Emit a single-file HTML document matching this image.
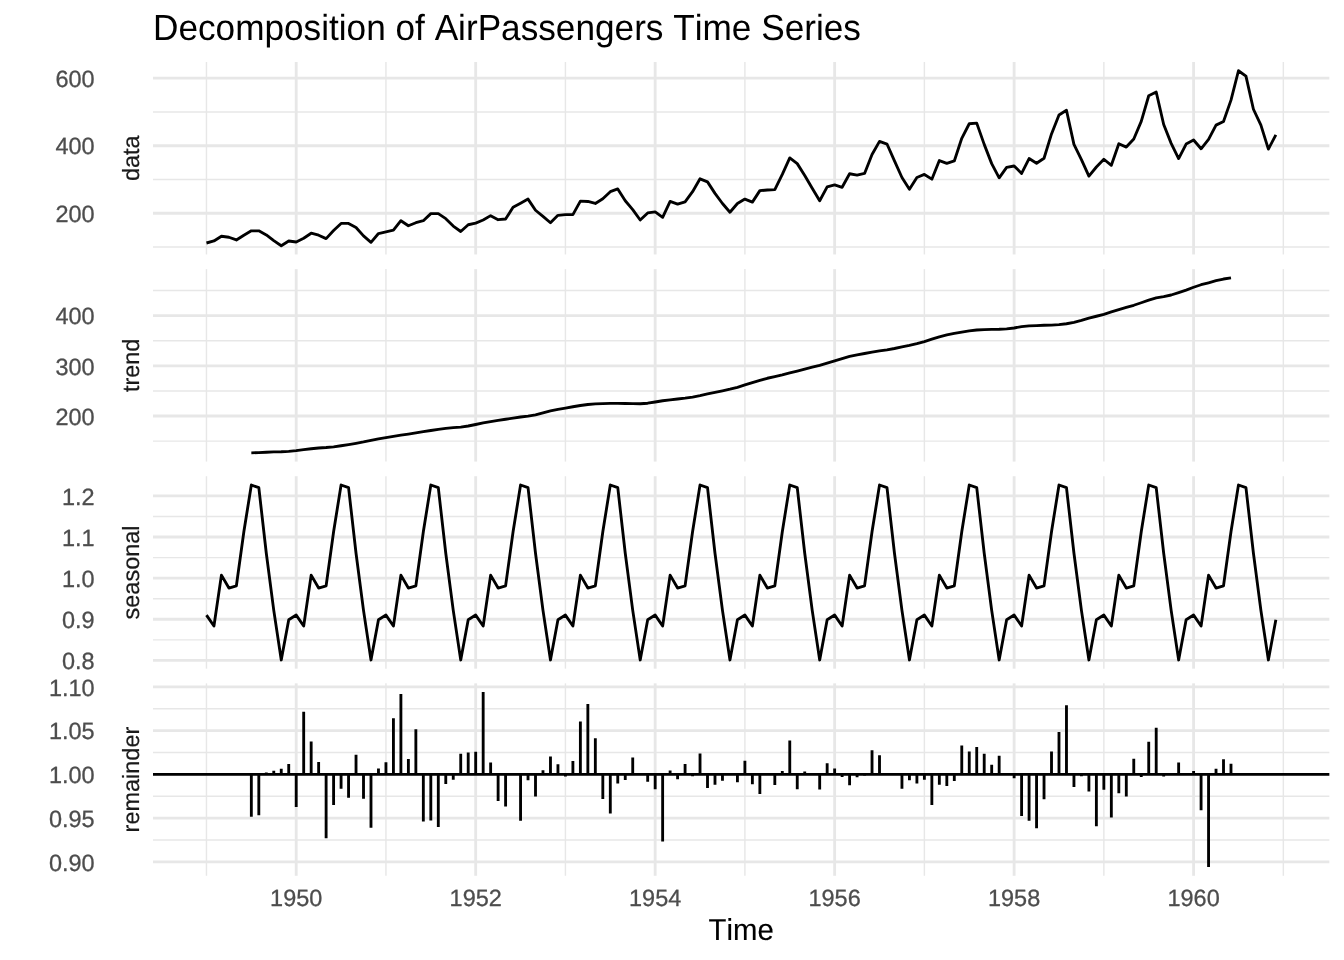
<!DOCTYPE html>
<html lang="en"><head><meta charset="utf-8"><title>Decomposition of AirPassengers Time Series</title>
<style>
html,body{margin:0;padding:0;background:#fff}
body{width:1344px;height:960px;overflow:hidden}
svg{display:block;font-family:"Liberation Sans",Arial,Helvetica,sans-serif;font-kerning:none;text-rendering:geometricPrecision}
text{stroke-width:0.3px;stroke-linejoin:round}
text.a{fill:#4D4D4D;stroke:#4D4D4D}
text.s{fill:#1A1A1A;stroke:#1A1A1A;stroke-width:0.2px}
text.k{fill:#000;stroke:#000;stroke-width:0.15px}
text.t{fill:#000;stroke:none}
</style></head><body>
<svg width="1344" height="960" viewBox="0 0 1344 960">
<rect width="1344" height="960" fill="#fff"/>
<g stroke="#E7E7E7" fill="none"><path d="M153.00 247.05H1329.33" stroke-width="1.42"/><path d="M153.00 179.50H1329.33" stroke-width="1.42"/><path d="M153.00 111.95H1329.33" stroke-width="1.42"/><path d="M206.47 62.00V254.45" stroke-width="1.42"/><path d="M385.95 62.00V254.45" stroke-width="1.42"/><path d="M565.43 62.00V254.45" stroke-width="1.42"/><path d="M744.90 62.00V254.45" stroke-width="1.42"/><path d="M924.38 62.00V254.45" stroke-width="1.42"/><path d="M1103.86 62.00V254.45" stroke-width="1.42"/><path d="M1283.34 62.00V254.45" stroke-width="1.42"/><path d="M153.00 213.28H1329.33" stroke-width="2.85"/><path d="M153.00 145.73H1329.33" stroke-width="2.85"/><path d="M153.00 78.18H1329.33" stroke-width="2.85"/><path d="M296.21 62.00V254.45" stroke-width="2.85"/><path d="M475.69 62.00V254.45" stroke-width="2.85"/><path d="M655.17 62.00V254.45" stroke-width="2.85"/><path d="M834.64 62.00V254.45" stroke-width="2.85"/><path d="M1014.12 62.00V254.45" stroke-width="2.85"/><path d="M1193.60 62.00V254.45" stroke-width="2.85"/></g>
<path d="M206.47 243.00L213.95 240.97L221.43 236.25L228.90 237.26L236.38 239.96L243.86 235.23L251.34 230.84L258.82 230.84L266.30 234.89L273.77 240.64L281.25 245.70L288.73 240.97L296.21 241.99L303.69 238.27L311.17 233.21L318.64 235.23L326.12 238.61L333.60 230.50L341.08 223.41L348.56 223.41L356.03 227.46L363.51 235.91L370.99 242.32L378.47 233.54L385.95 231.85L393.43 230.17L400.90 220.71L408.38 225.78L415.86 222.74L423.34 220.71L430.82 213.62L438.30 213.62L445.77 218.68L453.25 226.11L460.73 231.52L468.21 224.76L475.69 223.07L483.17 220.03L490.64 215.64L498.12 219.70L505.60 219.02L513.08 207.20L520.56 203.15L528.03 199.09L535.51 210.24L542.99 216.32L550.47 222.74L557.95 215.30L565.43 214.63L572.90 214.63L580.38 201.12L587.86 201.46L595.34 203.48L602.82 198.76L610.30 191.66L617.77 188.96L625.25 200.78L632.73 209.56L640.21 220.03L647.69 212.94L655.17 211.93L662.64 217.33L670.12 201.46L677.60 204.16L685.08 201.79L692.56 191.66L700.03 178.83L707.51 181.87L714.99 193.35L722.47 203.48L729.95 212.27L737.43 203.48L744.90 199.09L752.38 202.13L759.86 190.65L767.34 189.97L774.82 189.64L782.30 174.44L789.77 157.89L797.25 163.63L804.73 175.45L812.21 188.28L819.69 200.78L827.16 186.93L834.64 184.91L842.12 187.27L849.60 173.76L857.08 175.11L864.56 173.42L872.03 154.51L879.51 141.34L886.99 144.04L894.47 160.93L901.95 177.48L909.43 189.30L916.90 177.48L924.38 174.44L931.86 179.17L939.34 160.59L946.82 163.29L954.30 160.93L961.77 138.30L969.25 123.77L976.73 123.10L984.21 144.38L991.69 163.63L999.16 177.81L1006.64 167.34L1014.12 165.99L1021.60 173.42L1029.08 158.56L1036.56 163.29L1044.03 158.22L1051.51 133.91L1058.99 114.99L1066.47 110.26L1073.95 144.38L1081.43 159.58L1088.90 176.13L1096.38 167.01L1103.86 159.24L1111.34 165.32L1118.82 143.70L1126.30 147.08L1133.77 138.97L1141.25 121.41L1148.73 95.74L1156.21 92.03L1163.69 124.45L1171.16 143.36L1178.64 158.56L1186.12 144.04L1193.60 139.99L1201.08 148.77L1208.56 139.31L1216.03 125.13L1223.51 121.41L1230.99 100.13L1238.47 70.75L1245.95 76.15L1253.43 109.25L1260.90 125.13L1268.38 149.11L1275.86 134.92" fill="none" stroke="#000" stroke-width="2.85" stroke-linejoin="round" stroke-linecap="butt"/>
<text x="94.60" y="221.98" text-anchor="end" font-size="23.47" class="a">200</text>
<text x="94.60" y="154.43" text-anchor="end" font-size="23.47" class="a">400</text>
<text x="94.60" y="86.88" text-anchor="end" font-size="23.47" class="a">600</text>
<text transform="translate(138.70 158.22) rotate(-90)" text-anchor="middle" font-size="23.47" class="s">data</text>
<g stroke="#E7E7E7" fill="none"><path d="M153.00 441.16H1329.33" stroke-width="1.42"/><path d="M153.00 390.92H1329.33" stroke-width="1.42"/><path d="M153.00 340.68H1329.33" stroke-width="1.42"/><path d="M153.00 290.44H1329.33" stroke-width="1.42"/><path d="M206.47 269.12V461.57" stroke-width="1.42"/><path d="M385.95 269.12V461.57" stroke-width="1.42"/><path d="M565.43 269.12V461.57" stroke-width="1.42"/><path d="M744.90 269.12V461.57" stroke-width="1.42"/><path d="M924.38 269.12V461.57" stroke-width="1.42"/><path d="M1103.86 269.12V461.57" stroke-width="1.42"/><path d="M1283.34 269.12V461.57" stroke-width="1.42"/><path d="M153.00 416.04H1329.33" stroke-width="2.85"/><path d="M153.00 365.80H1329.33" stroke-width="2.85"/><path d="M153.00 315.56H1329.33" stroke-width="2.85"/><path d="M296.21 269.12V461.57" stroke-width="2.85"/><path d="M475.69 269.12V461.57" stroke-width="2.85"/><path d="M655.17 269.12V461.57" stroke-width="2.85"/><path d="M834.64 269.12V461.57" stroke-width="2.85"/><path d="M1014.12 269.12V461.57" stroke-width="2.85"/><path d="M1193.60 269.12V461.57" stroke-width="2.85"/></g>
<path d="M251.34 452.82L258.82 452.59L266.30 452.23L273.77 451.92L281.25 451.71L288.73 451.33L296.21 450.58L303.69 449.66L311.17 448.74L318.64 447.98L326.12 447.48L333.60 446.81L341.08 445.72L348.56 444.59L356.03 443.32L363.51 441.95L370.99 440.38L378.47 438.79L385.95 437.58L393.43 436.37L400.90 435.21L408.38 434.06L415.86 432.79L423.34 431.57L430.82 430.48L438.30 429.31L445.77 428.37L453.25 427.68L460.73 427.07L468.21 426.00L475.69 424.52L483.17 422.97L490.64 421.55L498.12 420.42L505.60 419.26L513.08 418.13L520.56 417.02L528.03 416.17L535.51 414.93L542.99 412.90L550.47 410.81L557.95 409.32L565.43 408.09L572.90 406.75L580.38 405.53L587.86 404.53L595.34 403.94L602.82 403.63L610.30 403.31L617.77 403.31L625.25 403.50L632.73 403.69L640.21 403.75L647.69 403.21L655.17 401.97L662.64 400.74L670.12 399.84L677.60 399.00L685.08 398.14L692.56 397.08L700.03 395.69L707.51 393.96L714.99 392.34L722.47 390.80L729.95 389.16L737.43 387.34L744.90 384.98L752.38 382.55L759.86 380.31L767.34 378.26L774.82 376.60L782.30 374.87L789.77 372.96L797.25 371.16L804.73 369.19L812.21 367.23L819.69 365.30L827.16 363.06L834.64 360.80L842.12 358.56L849.60 356.45L857.08 354.88L864.56 353.49L872.03 352.20L879.51 350.96L886.99 349.81L894.47 348.49L901.95 346.94L909.43 345.43L916.90 343.66L924.38 341.56L931.86 339.18L939.34 336.85L946.82 334.97L954.30 333.40L961.77 332.06L969.25 330.91L976.73 330.03L984.21 329.55L991.69 329.42L999.16 329.25L1006.64 328.81L1014.12 328.00L1021.60 326.66L1029.08 325.86L1036.56 325.61L1044.03 325.26L1051.51 325.13L1058.99 324.69L1066.47 323.77L1073.95 322.35L1081.43 320.42L1088.90 318.22L1096.38 316.25L1103.86 314.29L1111.34 311.96L1118.82 309.60L1126.30 307.36L1133.77 305.27L1141.25 302.75L1148.73 300.14L1156.21 297.92L1163.69 296.62L1171.16 294.99L1178.64 292.54L1186.12 290.13L1193.60 287.26L1201.08 284.73L1208.56 282.80L1216.03 280.73L1223.51 279.02L1230.99 277.86" fill="none" stroke="#000" stroke-width="2.85" stroke-linejoin="round" stroke-linecap="butt"/>
<text x="94.60" y="424.74" text-anchor="end" font-size="23.47" class="a">200</text>
<text x="94.60" y="374.50" text-anchor="end" font-size="23.47" class="a">300</text>
<text x="94.60" y="324.26" text-anchor="end" font-size="23.47" class="a">400</text>
<text transform="translate(138.70 365.34) rotate(-90)" text-anchor="middle" font-size="23.47" class="s">trend</text>
<g stroke="#E7E7E7" fill="none"><path d="M153.00 639.86H1329.33" stroke-width="1.42"/><path d="M153.00 598.73H1329.33" stroke-width="1.42"/><path d="M153.00 557.60H1329.33" stroke-width="1.42"/><path d="M153.00 516.47H1329.33" stroke-width="1.42"/><path d="M206.47 476.23V668.68" stroke-width="1.42"/><path d="M385.95 476.23V668.68" stroke-width="1.42"/><path d="M565.43 476.23V668.68" stroke-width="1.42"/><path d="M744.90 476.23V668.68" stroke-width="1.42"/><path d="M924.38 476.23V668.68" stroke-width="1.42"/><path d="M1103.86 476.23V668.68" stroke-width="1.42"/><path d="M1283.34 476.23V668.68" stroke-width="1.42"/><path d="M153.00 660.42H1329.33" stroke-width="2.85"/><path d="M153.00 619.29H1329.33" stroke-width="2.85"/><path d="M153.00 578.16H1329.33" stroke-width="2.85"/><path d="M153.00 537.03H1329.33" stroke-width="2.85"/><path d="M153.00 495.90H1329.33" stroke-width="2.85"/><path d="M296.21 476.23V668.68" stroke-width="2.85"/><path d="M475.69 476.23V668.68" stroke-width="2.85"/><path d="M655.17 476.23V668.68" stroke-width="2.85"/><path d="M834.64 476.23V668.68" stroke-width="2.85"/><path d="M1014.12 476.23V668.68" stroke-width="2.85"/><path d="M1193.60 476.23V668.68" stroke-width="2.85"/></g>
<path d="M206.47 615.08L213.95 626.03L221.43 575.13L228.90 588.07L236.38 585.82L243.86 531.78L251.34 484.98L258.82 487.71L266.30 553.28L273.77 610.34L281.25 659.94L288.73 619.77L296.21 615.08L303.69 626.03L311.17 575.13L318.64 588.07L326.12 585.82L333.60 531.78L341.08 484.98L348.56 487.71L356.03 553.28L363.51 610.34L370.99 659.94L378.47 619.77L385.95 615.08L393.43 626.03L400.90 575.13L408.38 588.07L415.86 585.82L423.34 531.78L430.82 484.98L438.30 487.71L445.77 553.28L453.25 610.34L460.73 659.94L468.21 619.77L475.69 615.08L483.17 626.03L490.64 575.13L498.12 588.07L505.60 585.82L513.08 531.78L520.56 484.98L528.03 487.71L535.51 553.28L542.99 610.34L550.47 659.94L557.95 619.77L565.43 615.08L572.90 626.03L580.38 575.13L587.86 588.07L595.34 585.82L602.82 531.78L610.30 484.98L617.77 487.71L625.25 553.28L632.73 610.34L640.21 659.94L647.69 619.77L655.17 615.08L662.64 626.03L670.12 575.13L677.60 588.07L685.08 585.82L692.56 531.78L700.03 484.98L707.51 487.71L714.99 553.28L722.47 610.34L729.95 659.94L737.43 619.77L744.90 615.08L752.38 626.03L759.86 575.13L767.34 588.07L774.82 585.82L782.30 531.78L789.77 484.98L797.25 487.71L804.73 553.28L812.21 610.34L819.69 659.94L827.16 619.77L834.64 615.08L842.12 626.03L849.60 575.13L857.08 588.07L864.56 585.82L872.03 531.78L879.51 484.98L886.99 487.71L894.47 553.28L901.95 610.34L909.43 659.94L916.90 619.77L924.38 615.08L931.86 626.03L939.34 575.13L946.82 588.07L954.30 585.82L961.77 531.78L969.25 484.98L976.73 487.71L984.21 553.28L991.69 610.34L999.16 659.94L1006.64 619.77L1014.12 615.08L1021.60 626.03L1029.08 575.13L1036.56 588.07L1044.03 585.82L1051.51 531.78L1058.99 484.98L1066.47 487.71L1073.95 553.28L1081.43 610.34L1088.90 659.94L1096.38 619.77L1103.86 615.08L1111.34 626.03L1118.82 575.13L1126.30 588.07L1133.77 585.82L1141.25 531.78L1148.73 484.98L1156.21 487.71L1163.69 553.28L1171.16 610.34L1178.64 659.94L1186.12 619.77L1193.60 615.08L1201.08 626.03L1208.56 575.13L1216.03 588.07L1223.51 585.82L1230.99 531.78L1238.47 484.98L1245.95 487.71L1253.43 553.28L1260.90 610.34L1268.38 659.94L1275.86 619.77" fill="none" stroke="#000" stroke-width="2.85" stroke-linejoin="round" stroke-linecap="butt"/>
<text x="94.60" y="669.12" text-anchor="end" font-size="23.47" class="a">0.8</text>
<text x="94.60" y="627.99" text-anchor="end" font-size="23.47" class="a">0.9</text>
<text x="94.60" y="586.86" text-anchor="end" font-size="23.47" class="a">1.0</text>
<text x="94.60" y="545.73" text-anchor="end" font-size="23.47" class="a">1.1</text>
<text x="94.60" y="504.60" text-anchor="end" font-size="23.47" class="a">1.2</text>
<text transform="translate(138.70 572.46) rotate(-90)" text-anchor="middle" font-size="23.47" class="s">seasonal</text>
<g stroke="#E7E7E7" fill="none"><path d="M153.00 839.99H1329.33" stroke-width="1.42"/><path d="M153.00 796.23H1329.33" stroke-width="1.42"/><path d="M153.00 752.47H1329.33" stroke-width="1.42"/><path d="M153.00 708.70H1329.33" stroke-width="1.42"/><path d="M206.47 683.35V875.80" stroke-width="1.42"/><path d="M385.95 683.35V875.80" stroke-width="1.42"/><path d="M565.43 683.35V875.80" stroke-width="1.42"/><path d="M744.90 683.35V875.80" stroke-width="1.42"/><path d="M924.38 683.35V875.80" stroke-width="1.42"/><path d="M1103.86 683.35V875.80" stroke-width="1.42"/><path d="M1283.34 683.35V875.80" stroke-width="1.42"/><path d="M153.00 861.88H1329.33" stroke-width="2.85"/><path d="M153.00 818.11H1329.33" stroke-width="2.85"/><path d="M153.00 774.35H1329.33" stroke-width="2.85"/><path d="M153.00 730.58H1329.33" stroke-width="2.85"/><path d="M153.00 686.82H1329.33" stroke-width="2.85"/><path d="M296.21 683.35V875.80" stroke-width="2.85"/><path d="M475.69 683.35V875.80" stroke-width="2.85"/><path d="M655.17 683.35V875.80" stroke-width="2.85"/><path d="M834.64 683.35V875.80" stroke-width="2.85"/><path d="M1014.12 683.35V875.80" stroke-width="2.85"/><path d="M1193.60 683.35V875.80" stroke-width="2.85"/></g>
<path d="M251.34 774.35V816.65M258.82 774.35V815.13M266.30 774.35V772.40M273.77 774.35V770.82M281.25 774.35V768.86M288.73 774.35V764.01M296.21 774.35V807.08M303.69 774.35V711.79M311.17 774.35V741.57M318.64 774.35V762.05M326.12 774.35V838.33M333.60 774.35V804.95M341.08 774.35V788.74M348.56 774.35V797.65M356.03 774.35V754.65M363.51 774.35V798.69M370.99 774.35V827.78M378.47 774.35V768.40M385.95 774.35V762.23M393.43 774.35V718.31M400.90 774.35V693.95M408.38 774.35V758.89M415.86 774.35V729.20M423.34 774.35V821.57M430.82 774.35V820.38M438.30 774.35V827.07M445.77 774.35V784.09M453.25 774.35V779.70M460.73 774.35V753.75M468.21 774.35V752.39M475.69 774.35V751.69M483.17 774.35V692.10M490.64 774.35V762.55M498.12 774.35V800.99M505.60 774.35V806.50M513.08 774.35V774.02M520.56 774.35V820.86M528.03 774.35V780.37M535.51 774.35V796.55M542.99 774.35V770.26M550.47 774.35V756.60M557.95 774.35V764.25M565.43 774.35V776.39M572.90 774.35V761.07M580.38 774.35V721.42M587.86 774.35V704.12M595.34 774.35V738.17M602.82 774.35V799.03M610.30 774.35V813.57M617.77 774.35V783.54M625.25 774.35V780.09M632.73 774.35V757.48M640.21 774.35V773.53M647.69 774.35V781.78M655.17 774.35V789.25M662.64 774.35V841.57M670.12 774.35V770.46M677.60 774.35V779.26M685.08 774.35V763.89M692.56 774.35V776.21M700.03 774.35V753.54M707.51 774.35V787.90M714.99 774.35V784.76M722.47 774.35V780.68M729.95 774.35V774.77M737.43 774.35V782.34M744.90 774.35V760.86M752.38 774.35V784.13M759.86 774.35V793.97M767.34 774.35V772.97M774.82 774.35V784.96M782.30 774.35V770.88M789.77 774.35V740.60M797.25 774.35V789.13M804.73 774.35V771.50M812.21 774.35V774.08M819.69 774.35V789.43M827.16 774.35V763.36M834.64 774.35V768.56M842.12 774.35V776.95M849.60 774.35V785.18M857.08 774.35V777.13M864.56 774.35V775.60M872.03 774.35V750.23M879.51 774.35V755.29M886.99 774.35V773.93M894.47 774.35V773.58M901.95 774.35V788.78M909.43 774.35V780.23M916.90 774.35V783.60M924.38 774.35V779.84M931.86 774.35V804.99M939.34 774.35V784.70M946.82 774.35V785.93M954.30 774.35V780.98M961.77 774.35V745.59M969.25 774.35V751.48M976.73 774.35V746.98M984.21 774.35V753.68M991.69 774.35V764.86M999.16 774.35V755.70M1006.64 774.35V773.89M1014.12 774.35V778.36M1021.60 774.35V816.12M1029.08 774.35V820.81M1036.56 774.35V828.27M1044.03 774.35V799.22M1051.51 774.35V751.47M1058.99 774.35V732.00M1066.47 774.35V705.23M1073.95 774.35V786.90M1081.43 774.35V776.28M1088.90 774.35V791.60M1096.38 774.35V826.37M1103.86 774.35V789.65M1111.34 774.35V817.61M1118.82 774.35V793.14M1126.30 774.35V796.54M1133.77 774.35V758.80M1141.25 774.35V777.09M1148.73 774.35V741.69M1156.21 774.35V727.87M1163.69 774.35V776.58M1171.16 774.35V773.18M1178.64 774.35V762.57M1186.12 774.35V774.42M1193.60 774.35V770.91M1201.08 774.35V810.16M1208.56 774.35V867.05M1216.03 774.35V768.66M1223.51 774.35V759.15M1230.99 774.35V763.78" fill="none" stroke="#000" stroke-width="2.85"/>
<path d="M153.00 774.35H1329.33" fill="none" stroke="#000" stroke-width="2.85"/>
<text x="94.60" y="870.58" text-anchor="end" font-size="23.47" class="a">0.90</text>
<text x="94.60" y="826.81" text-anchor="end" font-size="23.47" class="a">0.95</text>
<text x="94.60" y="783.05" text-anchor="end" font-size="23.47" class="a">1.00</text>
<text x="94.60" y="739.28" text-anchor="end" font-size="23.47" class="a">1.05</text>
<text x="94.60" y="695.52" text-anchor="end" font-size="23.47" class="a">1.10</text>
<text transform="translate(138.70 779.57) rotate(-90)" text-anchor="middle" font-size="23.47" class="s">remainder</text>
<text x="296.21" y="906.0" text-anchor="middle" font-size="23.47" class="a">1950</text>
<text x="475.69" y="906.0" text-anchor="middle" font-size="23.47" class="a">1952</text>
<text x="655.17" y="906.0" text-anchor="middle" font-size="23.47" class="a">1954</text>
<text x="834.64" y="906.0" text-anchor="middle" font-size="23.47" class="a">1956</text>
<text x="1014.12" y="906.0" text-anchor="middle" font-size="23.47" class="a">1958</text>
<text x="1193.60" y="906.0" text-anchor="middle" font-size="23.47" class="a">1960</text>
<text transform="translate(741.16 939.8) scale(1 1.03)" text-anchor="middle" font-size="29.33" class="k">Time</text>
<text transform="translate(153.00 40.0) scale(1 1.03)" font-size="35.20" class="t">Decomposition of AirPassengers Time Series</text>
</svg>
</body></html>
